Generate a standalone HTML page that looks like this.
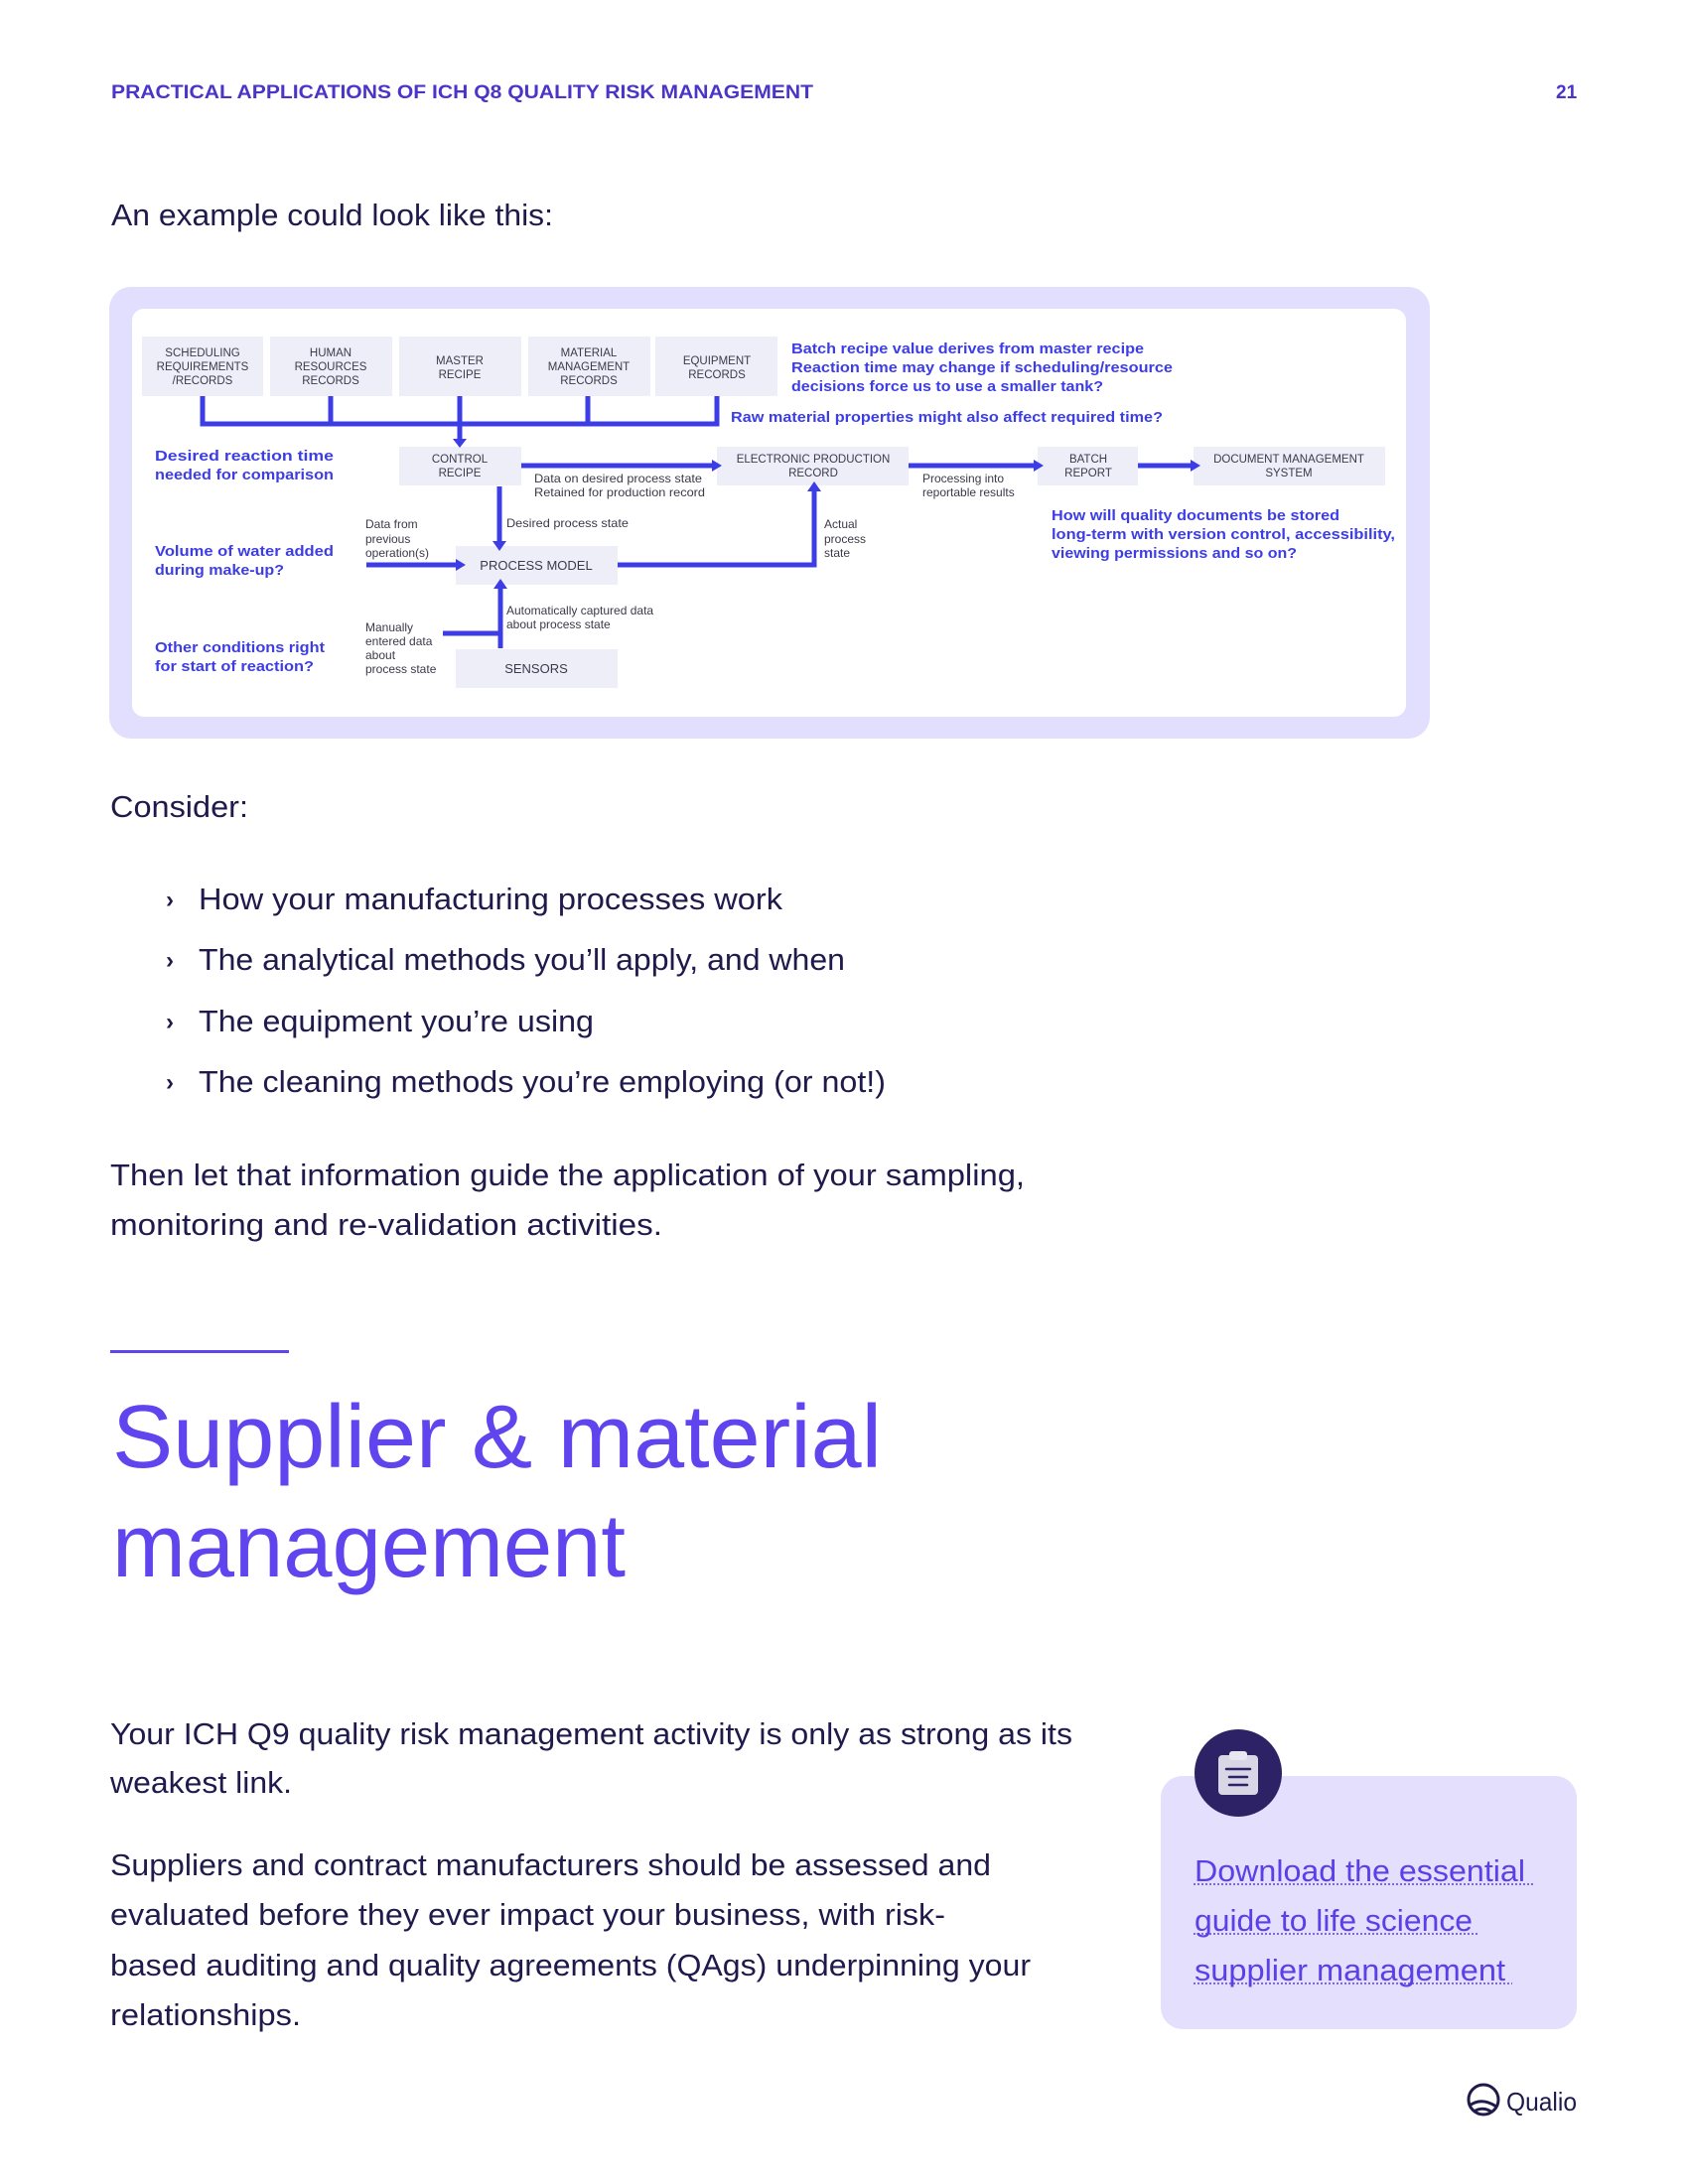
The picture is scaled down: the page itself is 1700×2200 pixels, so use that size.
<!DOCTYPE html>
<html><head><meta charset="utf-8"><style>
html,body{margin:0;padding:0;background:#fff;}
svg{display:block;}
.b{font-family:"Liberation Sans",sans-serif;fill:#1f1a4b;font-size:31px;}
.bx{font-family:"Liberation Sans",sans-serif;fill:#3a3a4a;font-size:11.5px;text-anchor:middle;}
.sm{font-family:"Liberation Sans",sans-serif;fill:#3a3a4a;font-size:12px;}
.q{font-family:"Liberation Sans",sans-serif;fill:#3d3de6;font-size:15px;font-weight:bold;}
</style></head><body>
<svg width="1700" height="2200" viewBox="0 0 1700 2200" xmlns="http://www.w3.org/2000/svg">
<text x="112" y="99" font-family="Liberation Sans,sans-serif" font-weight="bold" font-size="19" fill="#4b35c8" textLength="707" lengthAdjust="spacingAndGlyphs">PRACTICAL APPLICATIONS OF ICH Q8 QUALITY RISK MANAGEMENT</text>
<text x="1567" y="99" font-family="Liberation Sans,sans-serif" font-weight="bold" font-size="19" fill="#4b35c8">21</text>
<text class="b" x="112" y="227" textLength="445" lengthAdjust="spacingAndGlyphs">An example could look like this:</text>

<!-- diagram panel -->
<rect x="110" y="289" width="1330" height="455" rx="22" fill="#e2defd"/>
<rect x="133" y="311" width="1283" height="411" rx="12" fill="#fff"/>
<g fill="#eeeef9">
<rect x="143" y="339" width="122" height="60"/>
<rect x="272" y="339" width="123" height="60"/>
<rect x="402" y="339" width="123" height="60"/>
<rect x="532" y="339" width="123" height="60"/>
<rect x="660" y="339" width="123" height="60"/>
<rect x="402" y="450" width="123" height="39"/>
<rect x="722" y="450" width="193" height="39"/>
<rect x="1045" y="450" width="101" height="39"/>
<rect x="1202" y="450" width="193" height="39"/>
<rect x="459" y="550" width="163" height="39"/>
<rect x="459" y="654" width="163" height="39"/>
</g>
<g class="bx">
<text x="204" y="359">SCHEDULING</text><text x="204" y="373">REQUIREMENTS</text><text x="204" y="387">/RECORDS</text>
<text x="333" y="359">HUMAN</text><text x="333" y="373">RESOURCES</text><text x="333" y="387">RECORDS</text>
<text x="463" y="367">MASTER</text><text x="463" y="381">RECIPE</text>
<text x="593" y="359">MATERIAL</text><text x="593" y="373">MANAGEMENT</text><text x="593" y="387">RECORDS</text>
<text x="722" y="367">EQUIPMENT</text><text x="722" y="381">RECORDS</text>
<text x="463" y="466">CONTROL</text><text x="463" y="480">RECIPE</text>
<text x="819" y="466">ELECTRONIC PRODUCTION</text><text x="819" y="480">RECORD</text>
<text x="1096" y="466">BATCH</text><text x="1096" y="480">REPORT</text>
<text x="1298" y="466">DOCUMENT MANAGEMENT</text><text x="1298" y="480">SYSTEM</text>
<text x="540" y="574" font-size="13">PROCESS MODEL</text>
<text x="540" y="678" font-size="13">SENSORS</text>
</g>
<!-- connectors -->
<g stroke="#3d3de6" stroke-width="5" fill="none">
<path d="M204 399V427H722V399"/>
<path d="M333 399V427M463 399V443M592 399V427"/>
<path d="M525 469H718"/>
<path d="M915 469H1042"/>
<path d="M1146 469H1200"/>
<path d="M503 490V546"/>
<path d="M369 569H460"/>
<path d="M622 569H820V494"/>
<path d="M504 653V592"/>
<path d="M446 638H504"/>
</g>
<g fill="#3d3de6">
<polygon points="456,442 470,442 463,451"/>
<polygon points="717,463 717,475 727,469"/>
<polygon points="1041,463 1041,475 1051,469"/>
<polygon points="1199,463 1199,475 1209,469"/>
<polygon points="496,545 510,545 503,555"/>
<polygon points="459,563 459,575 469,569"/>
<polygon points="813,495 827,495 820,485"/>
<polygon points="497,593 511,593 504,583"/>
</g>
<g class="sm">
<text x="538" y="486" textLength="169" lengthAdjust="spacingAndGlyphs">Data on desired process state</text>
<text x="538" y="500" textLength="172" lengthAdjust="spacingAndGlyphs">Retained for production record</text>
<text x="510" y="531" textLength="123" lengthAdjust="spacingAndGlyphs">Desired process state</text>
<text x="368" y="532">Data from</text><text x="368" y="547">previous</text><text x="368" y="561">operation(s)</text>
<text x="510" y="619">Automatically captured data</text><text x="510" y="633">about process state</text>
<text x="368" y="636">Manually</text><text x="368" y="650">entered data</text><text x="368" y="664">about</text><text x="368" y="678">process state</text>
<text x="830" y="532">Actual</text><text x="830" y="547">process</text><text x="830" y="561">state</text>
<text x="929" y="486">Processing into</text>
<text x="929" y="500">reportable results</text>
</g>
<g class="q">
<text x="156" y="464" textLength="180" lengthAdjust="spacingAndGlyphs">Desired reaction time</text>
<text x="156" y="483" textLength="180" lengthAdjust="spacingAndGlyphs">needed for comparison</text>
<text x="156" y="560" textLength="180" lengthAdjust="spacingAndGlyphs">Volume of water added</text>
<text x="156" y="579" textLength="130" lengthAdjust="spacingAndGlyphs">during make-up?</text>
<text x="156" y="657" textLength="171" lengthAdjust="spacingAndGlyphs">Other conditions right</text>
<text x="156" y="676" textLength="160" lengthAdjust="spacingAndGlyphs">for start of reaction?</text>
<text x="797" y="356" textLength="355" lengthAdjust="spacingAndGlyphs">Batch recipe value derives from master recipe</text>
<text x="797" y="375" textLength="384" lengthAdjust="spacingAndGlyphs">Reaction time may change if scheduling/resource</text>
<text x="797" y="394" textLength="314" lengthAdjust="spacingAndGlyphs">decisions force us to use a smaller tank?</text>
<text x="736" y="425" textLength="435" lengthAdjust="spacingAndGlyphs">Raw material properties might also affect required time?</text>
<text x="1059" y="524" textLength="290" lengthAdjust="spacingAndGlyphs">How will quality documents be stored</text>
<text x="1059" y="543" textLength="346" lengthAdjust="spacingAndGlyphs">long-term with version control, accessibility,</text>
<text x="1059" y="562" textLength="247" lengthAdjust="spacingAndGlyphs">viewing permissions and so on?</text>
</g>

<text class="b" x="111" y="823" textLength="139" lengthAdjust="spacingAndGlyphs">Consider:</text>
<g class="b">
<text x="167" y="914" font-size="24" font-weight="bold">›</text>
<text x="167" y="975" font-size="24" font-weight="bold">›</text>
<text x="167" y="1037" font-size="24" font-weight="bold">›</text>
<text x="167" y="1098" font-size="24" font-weight="bold">›</text>
<text x="200" y="916" textLength="588" lengthAdjust="spacingAndGlyphs">How your manufacturing processes work</text>
<text x="200" y="977" textLength="651" lengthAdjust="spacingAndGlyphs">The analytical methods you’ll apply, and when</text>
<text x="200" y="1039" textLength="398" lengthAdjust="spacingAndGlyphs">The equipment you’re using</text>
<text x="200" y="1100" textLength="692" lengthAdjust="spacingAndGlyphs">The cleaning methods you’re employing (or not!)</text>
<text x="111" y="1194" textLength="921" lengthAdjust="spacingAndGlyphs">Then let that information guide the application of your sampling,</text>
<text x="111" y="1244" textLength="556" lengthAdjust="spacingAndGlyphs">monitoring and re-validation activities.</text>
</g>

<rect x="111" y="1360" width="180" height="3" fill="#6044ee"/>
<g font-family="Liberation Sans,sans-serif" font-size="90" fill="#6044ee">
<text x="113" y="1478" textLength="775" lengthAdjust="spacingAndGlyphs">Supplier &amp; material</text>
<text x="113" y="1588" textLength="517" lengthAdjust="spacingAndGlyphs">management</text>
</g>

<g class="b">
<text x="111" y="1757" textLength="969" lengthAdjust="spacingAndGlyphs">Your ICH Q9 quality risk management activity is only as strong as its</text>
<text x="111" y="1806" textLength="183" lengthAdjust="spacingAndGlyphs">weakest link.</text>
<text x="111" y="1889" textLength="887" lengthAdjust="spacingAndGlyphs">Suppliers and contract manufacturers should be assessed and</text>
<text x="111" y="1939" textLength="841" lengthAdjust="spacingAndGlyphs">evaluated before they ever impact your business, with risk-</text>
<text x="111" y="1990" textLength="927" lengthAdjust="spacingAndGlyphs">based auditing and quality agreements (QAgs) underpinning your</text>
<text x="111" y="2040" textLength="192" lengthAdjust="spacingAndGlyphs">relationships.</text>
</g>

<!-- callout -->
<rect x="1169" y="1789" width="419" height="255" rx="22" fill="#e3dffc"/>
<circle cx="1247" cy="1786" r="44" fill="#2e2266"/>
<rect x="1227" y="1768" width="40" height="40" rx="4" fill="#d9d6e6"/>
<rect x="1238" y="1764" width="18" height="9" rx="3" fill="#e8e6f0"/>
<g stroke="#2e2266" stroke-width="2.5" stroke-linecap="round">
<path d="M1235 1782H1259M1238 1790H1256M1238 1798H1256"/>
</g>
<g font-family="Liberation Sans,sans-serif" font-size="31" fill="#5b3fe8">
<text x="1203" y="1895" textLength="333" lengthAdjust="spacingAndGlyphs">Download the essential</text>
<text x="1203" y="1945" textLength="280" lengthAdjust="spacingAndGlyphs">guide to life science</text>
<text x="1203" y="1995" textLength="313" lengthAdjust="spacingAndGlyphs">supplier management</text>
</g>
<g stroke="#5b3fe8" stroke-width="1.5" stroke-dasharray="2 2">
<path d="M1202 1898H1545M1202 1948H1490M1202 1998H1523"/>
</g>

<!-- logo -->
<g fill="none" stroke="#1f1a4b" stroke-width="3">
<circle cx="1494" cy="2115" r="15"/>
<path d="M1480 2121Q1492 2112 1507 2122M1484 2127Q1494 2121 1503 2128"/>
</g>
<text x="1517" y="2126" font-family="Liberation Sans,sans-serif" font-size="26" fill="#1f1a4b" textLength="71" lengthAdjust="spacingAndGlyphs">Qualio</text>
</svg>
</body></html>
